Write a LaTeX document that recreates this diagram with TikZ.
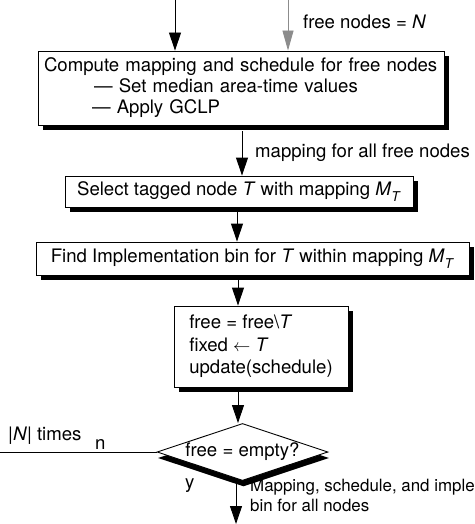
\documentclass[tikz,border=0pt]{standalone}
\usepackage{fontspec}
\setmainfont{TeX Gyre Heros}
\usetikzlibrary{arrows.meta,shapes.geometric,shadows}
\tikzstyle{procbox}=[draw,fill=white,line width=0.9pt,inner sep=0pt,drop shadow={shadow xshift=5pt,shadow yshift=-5pt,fill=black,opacity=1}]
\tikzstyle{decision}=[diamond,draw,fill=white,line width=0.9pt,inner sep=0pt,aspect=3,drop shadow={shadow xshift=1pt,shadow yshift=-6pt,fill=black,opacity=1}]
\tikzstyle{flow}=[draw,line width=0.9pt,-{Triangle[length=18pt,width=12pt]}]
\tikzstyle{note}=[anchor=west,inner sep=0pt]
\newcommand{\subT}{\raisebox{-0.3em}{\fontsize{13.5}{13.5}\selectfont\textit{T}}}

\begin{document}
\begin{tikzpicture}[x=1pt,y=-1pt,font=\fontsize{18.6}{21}\selectfont]
    \useasboundingbox (0,0) rectangle (474,524);
    % First we draw the boxes
    \node[procbox,minimum width=406pt,minimum height=74pt,text width=394pt,align=left] (compute) at (241,88)
        {Compute mapping and schedule for free nodes\\
         \hspace{50pt}--- Set median area-time values\\
         \hspace{48pt}--- Apply GCLP};
    \node[procbox,minimum width=348pt,minimum height=31pt] (select) at (239,191.5)
        {Select tagged node \textit{T} with mapping \textit{M}\subT};
    \node[procbox,minimum width=433pt,minimum height=33pt] (find) at (252.5,258.5)
        {Find Implementation bin for \textit{T} within mapping \textit{M}\subT};
    \node[procbox,minimum width=174pt,minimum height=81pt,align=left,font=\fontsize{18.6}{22.5}\selectfont] (update) at (261,346.5)
        {free = free\textbackslash\textit{T}\\
         fixed $\leftarrow$ \textit{T}\\
         update(schedule)};
    \node[decision,minimum width=171pt,minimum height=57pt] (empty) at (242.5,452) {free = empty?};
    % Free ends of the connectors
    \coordinate (inblack) at (175,0);
    \coordinate (ingray) at (288,0);
    \coordinate (loop) at (0,452);
    \coordinate (out) at (236,524);
    % Connect boxes with arrows
    \path[flow] (inblack) -- (inblack |- compute.north);
    \path[flow,draw=black!45,-{Triangle[length=20pt,width=11pt,fill=black!45]}] (ingray) -- (ingray |- compute.north);
    \path[flow] (242,0 |- compute.south) ++(0,6) -- (242,0 |- select.north);
    \foreach \src/\dst/\xx in {select/find/237, find/update/238, update/empty/238}
        \path[flow] (\xx,0 |- \src.south) ++(0,5) -- (\xx,0 |- \dst.north);
    \path[flow] (empty.south -| out) -- (out);
    \draw[line width=0.9pt] (empty.west) -- (loop);
    % Labels
    \node[note] (lfree) at (303,22) {free nodes = \textit{N}};
    \node[note] (lmap) at (255,153) {mapping for all free nodes};
    \node[note] (ltimes) at (8,436) {|\textit{N}| times};
    \node[note] (lno) at (95,444) {n};
    \node[note] (lyes) at (185,486) {y};
    \node[note,align=left,font=\fontsize{16.9}{20}\selectfont] (lresult) at (250,495) {Mapping, schedule, and imple\\bin for all nodes};
\end{tikzpicture}
\end{document}
